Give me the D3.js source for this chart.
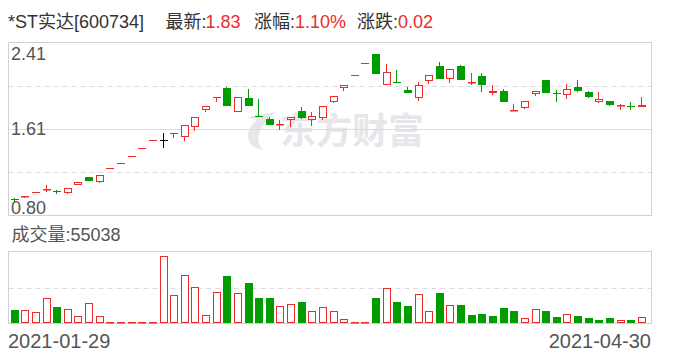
<!DOCTYPE html>
<html>
  <head>
    <meta charset="UTF-8" />
    <style>
      body {
        margin: 0;
        background-color: #ffffff;
      }
      svg {
        display: block;
        font-family: "Liberation Sans", "Noto Sans CJK SC", sans-serif;
      }
    </style>
  </head>

  <body>
    <svg width="688" height="360"></svg>

    <script src="https://d3js.org/d3.v7.min.js"></script>
    <script>
      // trading days shown (2021-01-29 .. 2021-04-30)
      const days = [
        "01-29",
        "02-01", "02-02", "02-03", "02-04", "02-05", "02-08", "02-09", "02-10",
        "02-18", "02-19", "02-22", "02-23", "02-24", "02-25", "02-26",
        "03-01", "03-02", "03-03", "03-04", "03-05", "03-08", "03-09", "03-10",
        "03-11", "03-12", "03-15", "03-16", "03-17", "03-18", "03-19", "03-22",
        "03-23", "03-24", "03-25", "03-26", "03-29", "03-30", "03-31",
        "04-01", "04-02", "04-06", "04-07", "04-08", "04-09", "04-12", "04-13",
        "04-14", "04-15", "04-16", "04-19", "04-20", "04-21", "04-22", "04-23",
        "04-26", "04-27", "04-28", "04-29", "04-30",
      ];

      const openP = [
        0.95, 0.97, 1.02, 1.04, 1.03, 1.01, 1.08, 1.16, 1.11, 1.24,
        1.29, 1.35, 1.43, 1.5, 1.5, 1.57, 1.53, 1.62, 1.78, 1.9,
        1.99, 1.76, 1.89, 1.73, 1.7, 1.64, 1.69, 1.77, 1.69, 1.71,
        1.86, 1.99, 2.11, 2.22, 2.3, 2.01, 2.04, 1.97, 1.89, 2.05,
        2.19, 2.07, 2.19, 2.03, 2.1, 1.94, 1.96, 1.77, 1.8, 1.93,
        2.06, 1.94, 1.92, 2.0, 1.95, 1.86, 1.87, 1.82, 1.82, 1.81,
      ];
      const highP = [
        0.96, 0.98, 1.02, 1.08, 1.04, 1.06, 1.11, 1.16, 1.18, 1.24,
        1.29, 1.35, 1.43, 1.5, 1.57, 1.57, 1.64, 1.72, 1.82, 1.9,
        2.0, 1.9, 1.98, 1.88, 1.72, 1.69, 1.72, 1.81, 1.76, 1.82,
        1.91, 2.01, 2.11, 2.22, 2.3, 2.21, 2.15, 2.0, 2.04, 2.11,
        2.23, 2.16, 2.2, 2.13, 2.13, 2.01, 1.98, 1.84, 1.87, 1.96,
        2.06, 1.97, 2.02, 2.06, 1.96, 1.95, 1.87, 1.84, 1.86, 1.9,
      ];
      const lowP = [
        0.93, 0.96, 1.01, 1.02, 1.0, 1.0, 1.08, 1.12, 1.1, 1.24,
        1.29, 1.35, 1.43, 1.5, 1.43, 1.52, 1.49, 1.59, 1.76, 1.86,
        1.82, 1.76, 1.82, 1.73, 1.64, 1.6, 1.62, 1.7, 1.63, 1.69,
        1.85, 1.96, 2.11, 2.22, 2.12, 2.01, 2.04, 1.94, 1.87, 2.02,
        2.07, 2.03, 2.06, 2.01, 1.95, 1.92, 1.86, 1.77, 1.79, 1.91,
        1.94, 1.86, 1.88, 1.95, 1.89, 1.85, 1.82, 1.78, 1.78, 1.81,
      ];
      const closeP = [
        0.94, 0.98, 1.02, 1.05, 1.02, 1.06, 1.11, 1.12, 1.18, 1.24,
        1.29, 1.35, 1.43, 1.5, 1.5, 1.57, 1.64, 1.72, 1.82, 1.9,
        1.82, 1.9, 1.82, 1.73, 1.64, 1.65, 1.72, 1.71, 1.73, 1.82,
        1.91, 2.01, 2.11, 2.22, 2.12, 2.14, 2.04, 1.94, 2.01, 2.11,
        2.07, 2.16, 2.06, 2.04, 2.01, 1.96, 1.86, 1.78, 1.87, 1.96,
        1.94, 1.93, 1.98, 1.96, 1.9, 1.88, 1.83, 1.83, 1.81, 1.83,
      ];
      // close of the day before 01-29
      const prevClose0 = 0.96;

      const volume = [
        113000, 110000, 93000, 208000, 138000, 118000, 63000, 167000, 63000, 3000,
        3000, 3000, 3000, 3000, 550000, 233000, 393000, 302000, 72000, 258000,
        385000, 253000, 327000, 212000, 212000, 146000, 162000, 179000, 101000, 138000,
        105000, 35000, 3000, 3000, 212000, 294000, 179000, 146000, 241000, 101000,
        253000, 151000, 154000, 72000, 80000, 63000, 129000, 105000, 44000, 118000,
        105000, 55000, 77000, 63000, 47000, 30000, 47000, 27000, 30000, 55038,
      ];

      const priceTicks = ["2.41", "1.61", "0.80"];
      const dateLabels = ["2021-01-29", "2021-04-30"];
      const stockName = "*ST实达[600734]";
      const latest = "1.83";
      const changePct = "1.10%";
      const change = "0.02";

      const red = "#ee2a2a";
      const green = "#009c00";
      const textGray = "#555";

      const left = 8.5;
      const right = 651.5;
      const priceTop = 42.5;
      const priceBottom = 215.5;
      const volTop = 251.5;
      const volBottom = 323.5;

      const svg = d3.select("svg");

      const x = d3.scaleBand().domain(days).range([9.4, 647.1]).padding(0);
      const yP = d3
        .scaleLinear()
        .domain([+priceTicks[2], +priceTicks[0]])
        .range([priceBottom, priceTop]);
      const yV = d3.scaleLinear().domain([0, 588000]).range([volBottom, volTop]);

      const bw = 8;
      const bodyLeft = (i) => Math.round(x(days[i]) + x.step() / 2 - bw / 2);

      // ---- title ----
      const title = svg
        .append("g")
        .attr("font-size", 18)
        .attr("fill", "#333");
      const parts = [
        { t: stockName, x: 8, c: "#333" },
        { t: "最新:", x: 165.5, c: "#333" },
        { t: latest, x: 205.5, c: red },
        { t: "涨幅:", x: 254, c: "#333" },
        { t: changePct, x: 295, c: red },
        { t: "涨跌:", x: 357, c: "#333" },
        { t: change, x: 398, c: red },
      ];
      title
        .selectAll("text")
        .data(parts)
        .enter()
        .append("text")
        .attr("x", (d) => d.x)
        .attr("y", 28)
        .attr("fill", (d) => d.c)
        .text((d) => d.t);

      // ---- watermark ----
      const wm = svg.append("g").attr("fill", "#e6e6eb");
      wm.append("path").attr(
        "d",
        "M247,117 L276,112 Q263,122 259,133 Q256,142 263,150 Q247,147 248,135 Q249,126 257,120 Z"
      );
      wm.append("text")
        .attr("x", 280)
        .attr("y", 144)
        .attr("font-size", 36)
        .attr("font-weight", "bold")
        .attr("font-family", "Noto Sans CJK SC")
        .text("东方财富");

      // ---- price panel grid ----
      const quarters = d3.range(1, 4).map((k) => yP.invert(priceTop + (k * (priceBottom - priceTop)) / 4));
      svg
        .append("g")
        .selectAll("line")
        .data(quarters)
        .enter()
        .append("line")
        .attr("x1", left)
        .attr("x2", right)
        .attr("y1", (d) => Math.round(yP(d)) + 0.5)
        .attr("y2", (d) => Math.round(yP(d)) + 0.5)
        .attr("stroke", "#dcdcdc")
        .attr("stroke-dasharray", (d, i) => (i === 1 ? null : "5,4"));

      svg
        .append("rect")
        .attr("x", left)
        .attr("y", priceTop)
        .attr("width", right - left)
        .attr("height", priceBottom - priceTop)
        .attr("fill", "none")
        .attr("stroke", "#d0d0d8");

      // ---- candles ----
      const candles = svg.append("g");
      days.forEach((d, i) => {
        const o = openP[i],
          c = closeP[i],
          h = highP[i],
          l = lowP[i];
        const pc = i === 0 ? prevClose0 : closeP[i - 1];
        let col;
        if (c > o) col = red;
        else if (c < o) col = green;
        else col = c > pc ? red : c < pc ? green : "#000";
        const bx = bodyLeft(i);
        const cx = bx + 3.5;
        const top = Math.round(yP(Math.max(o, c)));
        const bot = Math.round(yP(Math.min(o, c)));
        const yh = Math.round(yP(h));
        const yl = Math.round(yP(l));

        if (yh < top)
          candles.append("line").attr("x1", cx).attr("x2", cx).attr("y1", yh).attr("y2", top).attr("stroke", col);
        if (yl > bot)
          candles.append("line").attr("x1", cx).attr("x2", cx).attr("y1", bot).attr("y2", yl).attr("stroke", col);

        if (c > o) {
          candles
            .append("rect")
            .attr("x", bx + 0.5)
            .attr("y", top + 0.5)
            .attr("width", bw - 1)
            .attr("height", Math.max(bot - top - 1, 0.5))
            .attr("fill", "#fff")
            .attr("stroke", col);
        } else if (c < o) {
          candles
            .append("rect")
            .attr("x", bx)
            .attr("y", top)
            .attr("width", bw)
            .attr("height", Math.max(bot - top, 1))
            .attr("fill", col);
        } else {
          candles
            .append("line")
            .attr("x1", bx)
            .attr("x2", bx + bw)
            .attr("y1", top + 0.5)
            .attr("y2", top + 0.5)
            .attr("stroke", col);
        }
      });

      // ---- price labels ----
      const pLabels = svg.append("g").attr("font-size", 18).attr("fill", textGray);
      pLabels.append("text").attr("x", 11).attr("y", yP(+priceTicks[0]) + 17.5).text(priceTicks[0]);
      pLabels.append("text").attr("x", 11).attr("y", yP(+priceTicks[1]) + 7).text(priceTicks[1]);
      pLabels.append("text").attr("x", 11).attr("y", yP(+priceTicks[2]) - 1.5).text(priceTicks[2]);

      // ---- volume panel ----
      svg
        .append("text")
        .attr("x", 11.5)
        .attr("y", 241)
        .attr("font-size", 18)
        .attr("fill", textGray)
        .text("成交量:" + volume[volume.length - 1]);

      svg
        .append("line")
        .attr("x1", left)
        .attr("x2", right)
        .attr("y1", Math.round(yV(294000)) + 0.5)
        .attr("y2", Math.round(yV(294000)) + 0.5)
        .attr("stroke", "#dcdcdc")
        .attr("stroke-dasharray", "5,4");

      svg
        .append("rect")
        .attr("x", left)
        .attr("y", volTop)
        .attr("width", right - left)
        .attr("height", volBottom - volTop)
        .attr("fill", "none")
        .attr("stroke", "#d0d0d8");

      const volBars = svg.append("g");
      volume.forEach((v, i) => {
        const pc = i === 0 ? prevClose0 : closeP[i - 1];
        const up = closeP[i] >= pc;
        const bx = bodyLeft(i);
        const top = Math.round(yV(v));
        const bot = volBottom - 0.5;
        if (up) {
          volBars
            .append("rect")
            .attr("x", bx + 0.5)
            .attr("y", Math.min(top, bot - 1) + 0.5)
            .attr("width", bw - 1)
            .attr("height", Math.max(bot - top - 1, 0.5))
            .attr("fill", "#fff")
            .attr("stroke", red);
        } else {
          volBars
            .append("rect")
            .attr("x", bx)
            .attr("y", top)
            .attr("width", bw)
            .attr("height", bot - top)
            .attr("fill", green);
        }
      });

      // ---- dates ----
      const dl = svg.append("g").attr("font-size", 20).attr("fill", textGray);
      dl.append("text").attr("x", 8).attr("y", 348).text(dateLabels[0]);
      dl.append("text").attr("x", 651).attr("y", 348).attr("text-anchor", "end").text(dateLabels[1]);
    </script>
  </body>
</html>
